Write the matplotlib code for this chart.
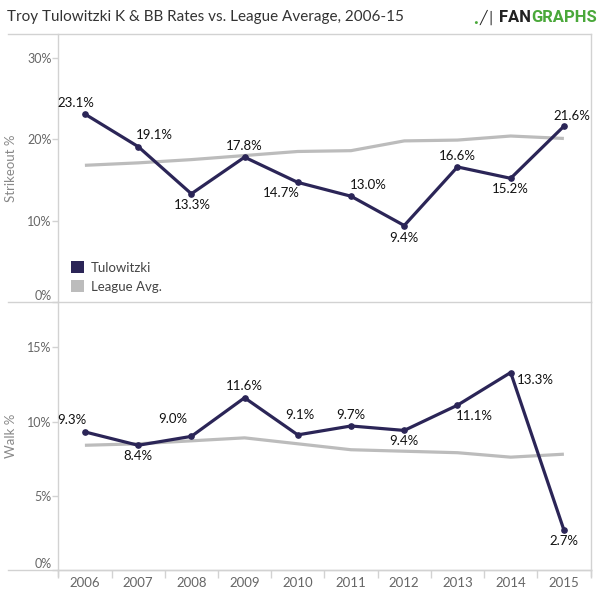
import matplotlib
matplotlib.use("Agg")
import matplotlib.pyplot as plt
from matplotlib.lines import Line2D
from matplotlib.patches import Patch

plt.rcParams['font.family'] = ['Lato', 'DejaVu Sans']

# veriler
years = ["2006", "2007", "2008", "2009", "2010", "2011", "2012", "2013", "2014", "2015"]
tulo_k = [23.1, 19.1, 13.3, 17.8, 14.7, 13.0, 9.4, 16.6, 15.2, 21.6]
lg_k = [16.8, 17.1, 17.5, 18.0, 18.5, 18.6, 19.8, 19.9, 20.4, 20.1]
tulo_bb = [9.3, 8.4, 9.0, 11.6, 9.1, 9.7, 9.4, 11.1, 13.3, 2.7]
lg_bb = [8.4, 8.5, 8.7, 8.9, 8.5, 8.1, 8.0, 7.9, 7.6, 7.8]

# etiket kaydirmalari (piksel)
k_offsets = [(-9, 11), (16, 12), (1, -11), (0, 11), (-16, -11),
             (17, 11), (0, -12), (0, 11), (0, -11), (8, 10)]
bb_offsets = [(-13, 12), (0, -11), (-19, 17), (0, 12), (2, 20),
              (0, 11), (0, -11), (17, -11), (25, -7), (0, -11)]

NAVY = "#2b2557"
GRAY_LINE = "#bcbcbc"
AXIS = "#d2d2d2"
TXT = "#666666"

W = H = 598
fig = plt.figure(figsize=(W / 100, H / 100), dpi=100)

TOP = 33.5
left = 58.3 / W
width = (590.5 - 58.3) / W
ax1 = fig.add_axes([left, (H - 302) / H, width, (302 - TOP) / H])
ax2 = fig.add_axes([left, (H - 570) / H, width, (570 - 302) / H])

x = list(range(len(years)))


def style(ax, ymax, ticks, label):
    ax.set_xlim(-0.5, len(years) - 0.5)
    ax.set_ylim(0, ymax)
    ax.set_yticks(ticks)
    ax.set_yticklabels([f"{t}%" for t in ticks])
    ax.spines["top"].set_visible(False)
    for s in ["left", "right", "bottom"]:
        ax.spines[s].set_color(AXIS)
        ax.spines[s].set_linewidth(1)
    ax.tick_params(axis="y", colors=AXIS, labelcolor=TXT, labelsize=9,
                   length=4, width=1, pad=1)
    ax.get_yticklabels()[0].set_va("bottom")
    ax.set_ylabel(label, color="#888888", fontsize=9.5)
    ax.yaxis.set_label_coords(-41 / (590.5 - 58.3), 0.5)


style(ax1, 33.0, [0, 10, 20, 30], "Strikeout %")
style(ax2, 18.05, [0, 5, 10, 15], "Walk %")

ax1.set_xticks([])
ax1.spines["bottom"].set_visible(False)

ax2.set_xticks(x)
ax2.set_xticklabels(years)
ax2.set_xticks([i - 0.5 for i in range(len(years) + 1)], minor=True)
ax2.tick_params(axis="x", which="major", length=0, labelsize=9.5, labelcolor=TXT, pad=5)
ax2.tick_params(axis="x", which="minor", length=6, color=AXIS, width=1)

# cizgiler
ax1.plot(x, lg_k, color=GRAY_LINE, lw=2.3, solid_capstyle="butt", zorder=2)
ax1.plot(x, tulo_k, color=NAVY, lw=2.3, marker="o", ms=3.8, zorder=3)
ax2.plot(x, lg_bb, color=GRAY_LINE, lw=2.3, solid_capstyle="butt", zorder=2)
ax2.plot(x, tulo_bb, color=NAVY, lw=2.3, marker="o", ms=3.8, zorder=3)

for ax, vals, offs in [(ax1, tulo_k, k_offsets), (ax2, tulo_bb, bb_offsets)]:
    for xi, v, o in zip(x, vals, offs):
        ax.annotate(f"{v:.1f}%", (xi, v), xytext=o, textcoords="offset pixels",
                    ha="center", va="center", fontsize=9.5, color="#111111",
                    zorder=4)

# legend
handles = [Patch(facecolor=NAVY, edgecolor="none", label="Tulowitzki"),
           Patch(facecolor=GRAY_LINE, edgecolor="none", label="League Avg.")]
leg = ax1.legend(handles=handles, loc="lower left",
                 bbox_to_anchor=((66 - 58.3) / (590.5 - 58.3), 0.015),
                 frameon=False, fontsize=9.5, handlelength=1.0, handleheight=1.0,
                 handletextpad=0.5, labelspacing=0.5, borderaxespad=0)
for t in leg.get_texts():
    t.set_color("#444444")

# ayirici cizgiler
for yy in [TOP, 302, 570]:
    fig.add_artist(Line2D([8 / W, 590.5 / W], [1 - yy / H, 1 - yy / H],
                          color=AXIS, lw=1))
for xx in [58.3, 590.5]:
    fig.add_artist(Line2D([xx / W, xx / W], [1 - 576 / H, 1 - 570 / H],
                          color=AXIS, lw=1))

# baslik ve logo
fig.text(7 / W, 1 - 17 / H, "Troy Tulowitzki K & BB Rates vs. League Average, 2006-15",
         fontsize=11, color="#333333", va="center", ha="left")
fig.text(473 / W, 1 - 19 / H, ".", fontsize=14, color="#4aa83a",
         fontweight="bold", va="center", ha="left")
fig.text(480 / W, 1 - 17.5 / H, "\u2571\u2502", fontsize=9, color="#222222",
         fontweight="bold", va="center", ha="left")
t1 = fig.text(499 / W, 1 - 17.5 / H, "FAN", fontsize=12, color="#222222",
              fontweight="bold", va="center", ha="left", family="Roboto")
fig.canvas.draw()
bb = t1.get_window_extent()
fig.text(bb.x1 / W, 1 - 17.5 / H, "GRAPHS", fontsize=12, color="#4aa83a",
         fontweight="bold", va="center", ha="left", family="Roboto")

fig.savefig("out.png", dpi=100)
